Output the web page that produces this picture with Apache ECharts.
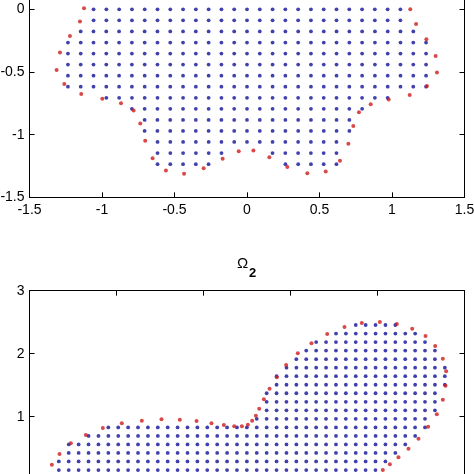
<!DOCTYPE html>
<html><head><meta charset="utf-8">
<script src="https://cdn.jsdelivr.net/npm/echarts@6/dist/echarts.min.js"></script>
<style>html,body{margin:0;padding:0;background:#fff}#c{width:474px;height:474px}</style>
</head><body><div id="c"></div>
<script>
// ---------- data ----------
const topXTicks = [-1.5, -1, -0.5, 0, 0.5, 1, 1.5];
const topYTicks = [-1.5, -1, -0.5, 0];
const bottomYTicks = [0, 1, 2, 3];

// top domain: interior lattice rows [y, firstX, lastX]
const topGridStep = 0.0882;
const topBlueRows = [
  [0.000, -1.058, 1.058],
  [-0.088, -1.058, 1.058],
  [-0.176, -1.147, 1.147],
  [-0.265, -1.235, 1.235],
  [-0.353, -1.235, 1.235],
  [-0.441, -1.235, 1.235],
  [-0.529, -1.235, 1.235],
  [-0.617, -1.235, 1.235],
  [-0.706, -0.970, 0.970],
  [-0.794, -0.794, 0.794],
  [-0.882, -0.706, 0.706],
  [-0.970, -0.706, 0.706],
  [-1.058, -0.617, 0.617],
  [-1.147, -0.617, -0.176],
  [-1.147, 0.176, 0.617],
  [-1.235, -0.617, -0.265],
  [-1.235, 0.265, 0.617]
];
// top domain: boundary points
const topRedX = [-1.124, -1.152, -1.221, -1.290, -1.313, -1.260, -1.143, -0.998, -0.869, -0.782,
  -0.736, -0.702, -0.651, -0.559, -0.434, -0.299, -0.168, -0.057, 0.044, 0.154,
  0.278, 0.416, 0.543, 0.641, 0.699, 0.733, 0.772, 0.853, 0.977, 1.122,
  1.241, 1.310, 1.301, 1.237, 1.166, 1.126];
const topRedY = [0.008, -0.098, -0.212, -0.344, -0.484, -0.595, -0.675, -0.714, -0.749, -0.807,
  -0.910, -1.049, -1.189, -1.286, -1.312, -1.267, -1.193, -1.132, -1.127, -1.180,
  -1.257, -1.307, -1.294, -1.209, -1.073, -0.931, -0.822, -0.757, -0.720, -0.683,
  -0.611, -0.503, -0.373, -0.238, -0.116, 0.000];

// bottom domain (Omega_2): interior lattice rows [y, firstX, lastX]
const bottomGridStep = 0.1138;
const bottomBlueRows = [
  [2.455, 3.750, 4.205],
  [2.319, 3.523, 4.433],
  [2.184, 3.295, 4.546],
  [2.049, 3.181, 4.660],
  [1.913, 3.067, 4.660],
  [1.778, 2.954, 4.774],
  [1.643, 2.840, 4.774],
  [1.507, 2.840, 4.774],
  [1.372, 2.726, 4.660],
  [1.236, 2.726, 4.660],
  [1.101, 2.726, 4.660],
  [0.966, 2.612, 4.546],
  [0.830, 0.906, 4.546],
  [0.695, 0.679, 4.433],
  [0.559, 0.451, 4.319],
  [0.424, 0.451, 4.205],
  [0.289, 0.337, 4.091],
  [0.153, 0.337, 3.977]
];
const bottomRedX = [0.257, 0.345, 0.475, 0.648, 0.843, 1.061, 1.291, 1.517, 1.728, 1.920,
  2.092, 2.234, 2.353, 2.441, 2.510, 2.559, 2.602, 2.640, 2.694, 2.759,
  2.843, 2.950, 3.084, 3.241, 3.422, 3.621, 3.820, 4.027, 4.222, 4.399,
  4.552, 4.663, 4.751, 4.789, 4.782, 4.751, 4.682, 4.582, 4.471, 4.356,
  4.241, 4.142, 4.061];
const bottomRedY = [0.238, 0.407, 0.577, 0.709, 0.820, 0.894, 0.937, 0.958, 0.952, 0.931,
  0.894, 0.868, 0.847, 0.847, 0.873, 0.937, 1.016, 1.127, 1.275, 1.444,
  1.624, 1.820, 2.005, 2.164, 2.312, 2.423, 2.487, 2.503, 2.471, 2.397,
  2.280, 2.122, 1.921, 1.720, 1.492, 1.270, 1.037, 0.841, 0.651, 0.492,
  0.354, 0.243, 0.153];

// ---------- build ----------
function expandRows(rows, step) {
  const pts = [];
  rows.forEach(([y, x0, x1]) => {
    const n = Math.round((x1 - x0) / step);
    for (let i = 0; i <= n; i++) pts.push([n ? x0 + i * (x1 - x0) / n : x0, y]);
  });
  return pts;
}
const zip = (xs, ys) => xs.map((x, i) => [x, ys[i]]);

const FONT = 'Liberation Sans';
const BLUE = '#12129a';
const RED = '#d01c1c';

function axis(gridIndex, position, range, showLabel) {
  return {
    type: 'value', gridIndex, position,
    min: range.min, max: range.max, interval: range.interval,
    axisLine: { onZero: false, lineStyle: { color: '#000', width: 1 } },
    axisTick: { inside: true, length: 5, lineStyle: { color: '#000', width: 1 } },
    axisLabel: {
      show: showLabel, color: '#000', fontSize: 14, fontFamily: FONT,
      margin: (position === 'left' || position === 'right') ? 5 : 6,
      showMinLabel: true, showMaxLabel: true, hideOverlap: false
    },
    splitLine: { show: false }
  };
}

const topX = { min: topXTicks[0], max: topXTicks[topXTicks.length - 1], interval: 0.5 };
const topY = { min: topYTicks[0], max: 0.5, interval: 0.5 };
const botX = { min: 0, max: 5, interval: 1 };
const botY = { min: bottomYTicks[0], max: bottomYTicks[bottomYTicks.length - 1], interval: 1 };

const option = {
  animation: false,
  backgroundColor: '#fff',
  grid: [
    { left: 29.5, width: 435, top: -53.33, height: 250.67, containLabel: false, outerBoundsMode: 'none' },
    { left: 29.5, width: 435, top: 290.67, height: 189, containLabel: false, outerBoundsMode: 'none' }
  ],
  xAxis: [
    axis(0, 'bottom', topX, true),
    axis(0, 'top', topX, false),
    axis(1, 'bottom', botX, true),
    axis(1, 'top', botX, false)
  ],
  yAxis: [
    axis(0, 'left', topY, true),
    axis(0, 'right', topY, false),
    axis(1, 'left', botY, true),
    axis(1, 'right', botY, false)
  ],
  graphic: [
    { type: 'text', left: 237, top: 256, style: { text: 'Ω', fontSize: 15, fontFamily: FONT, fill: '#000' } },
    { type: 'text', left: 249, top: 267, style: { text: '2', fontSize: 13, fontWeight: 'bold', fontFamily: FONT, fill: '#000' } }
  ],
  series: [
    { type: 'scatter', xAxisIndex: 0, yAxisIndex: 0, data: expandRows(topBlueRows, topGridStep),
      symbolSize: 3.8, itemStyle: { color: BLUE }, silent: true },
    { type: 'scatter', xAxisIndex: 0, yAxisIndex: 0, data: zip(topRedX, topRedY),
      symbolSize: 4, itemStyle: { color: RED }, silent: true },
    { type: 'scatter', xAxisIndex: 2, yAxisIndex: 2, data: expandRows(bottomBlueRows, bottomGridStep),
      symbolSize: 3.8, itemStyle: { color: BLUE }, silent: true },
    { type: 'scatter', xAxisIndex: 2, yAxisIndex: 2, data: zip(bottomRedX, bottomRedY),
      symbolSize: 4, itemStyle: { color: RED }, silent: true }
  ]
};
const chart = echarts.init(document.getElementById('c'), null, { renderer: 'canvas' });
chart.setOption(option);
</script></body></html>
